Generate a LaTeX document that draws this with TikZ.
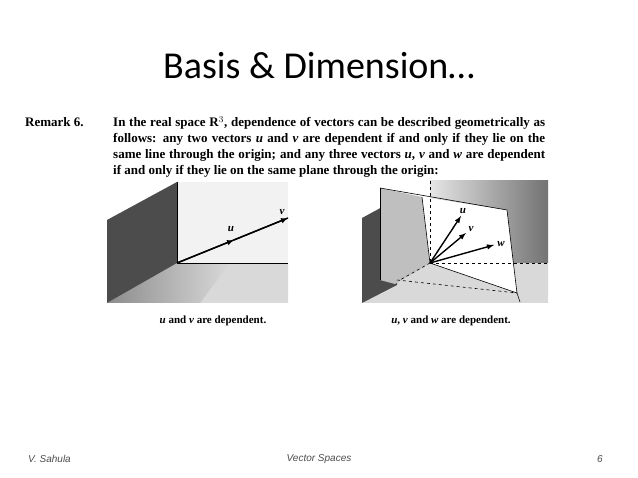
\documentclass[tikz,border=0pt]{standalone}
\usepackage{fontspec}
\setmainfont{Liberation Serif}
\newfontfamily\titlefont{Carlito}
\newfontfamily\footfont{Liberation Sans}
\begin{document}
\begin{tikzpicture}[x=1pt,y=-1pt,
  remtxt/.style={anchor=base west,inner sep=0,font=\fontsize{13}{15}\selectfont\bfseries},
  foot/.style={font=\fontsize{10}{11}\selectfont\footfont\itshape,text=black!70,inner sep=0},
  vec/.style={line width=1.4pt,-latex},
  captxt/.style={font=\fontsize{11}{13}\selectfont\bfseries,inner sep=0}]
\useasboundingbox (0,0) rectangle (638,478);
\node[font=\fontsize{38}{44}\selectfont\titlefont] (title) at (319,66) {Basis \& Dimension…};
\node[remtxt] (rem) at (25,127) {Remark 6.};
\node[remtxt] (l1) at (113,127) {\makebox[432pt][s]{In the real space \textbf{R}$^3$, dependence of vectors can be described geometrically as}};
\node[remtxt] (l2) at (113,143) {\makebox[432pt][s]{follows: any two vectors \textit{u} and \textit{v} are dependent if and only if they lie on the}};
\node[remtxt] (l3) at (113,159) {\makebox[432pt][s]{same line through the origin; and any three vectors \textit{u}, \textit{v} and \textit{w} are dependent}};
\node[remtxt] (l4) at (113,175) {if and only if they lie on the same plane through the origin:};
% left figure
\fill[black!15] (107,303) -- (177,263) -- (288,263) -- (288,303) -- cycle;
\shade[left color=black!45,right color=black!15] (107,303) -- (177,263) -- (230,263) -- (200,303) -- cycle;
\fill[black!5] (177,182) -- (288,182) -- (288,263) -- (177,263) -- cycle;
\fill[black!70] (107,220) -- (177,182) -- (177,263) -- (107,303) -- cycle;
\draw[line width=0.8pt] (177,263) -- (288,263);
\draw[line width=0.6pt] (177,182) -- (177,263);
\coordinate (o1) at (177,263);
\coordinate (m1) at (234,240);
\coordinate (e1) at (288,218);
\draw[line width=1.4pt] (o1) -- (e1);
\draw[vec] (o1) -- (m1);
\draw[vec] (m1) -- (e1);
\node[captxt] (lu) at (231,229) {\textit{u}};
\node[captxt] (lv) at (282,212) {\textit{v}};
\node[captxt] (c1) at (213,321) {\textit{u} and \textit{v} are dependent.};
% right figure
\fill[black!15] (362,303) -- (430,263) -- (548,263) -- (548,303) -- cycle;
\shade[left color=black!10,right color=black!55] (430,181) -- (548,181) -- (548,263) -- (430,263) -- cycle;
\fill[black!70] (362,218) -- (397,199) -- (397,285) -- (362,303) -- cycle;
\fill[black!25] (380,188) -- (422,197) -- (430,263) -- (395,284) -- (380,280) -- cycle;
\fill[white] (422,197) -- (507,210) -- (517,293) -- (430,263) -- cycle;
\draw[line width=0.6pt] (380,188) -- (507,210) -- (517,293);
\draw[line width=0.6pt] (422,197) -- (430,263);
\draw[line width=0.6pt] (380,188) -- (380,280);
\draw[line width=0.6pt] (430,263) -- (517,293);
\draw[dashed,line width=0.6pt] (430,181) -- (430,263);
\draw[dashed,line width=0.6pt] (430,263) -- (548,263);
\draw[dashed,line width=0.6pt] (430,263) -- (400,280);
\draw[dashed,line width=0.6pt] (397,280) -- (517,293);
\draw[line width=0.6pt] (517,293) -- (520,302);
\coordinate (o2) at (430,263);
\coordinate (eu) at (461,216);
\coordinate (ev) at (466,233);
\coordinate (ew) at (494,245);
\draw[vec] (o2) -- (eu);
\draw[vec] (o2) -- (ev);
\draw[vec] (o2) -- (ew);
\node[captxt] (ru) at (463,211) {\textit{u}};
\node[captxt] (rv) at (471,229) {\textit{v}};
\node[captxt] (rw) at (501,244) {\textit{w}};
\node[captxt] (c2) at (451,321) {\textit{u}, \textit{v} and \textit{w} are dependent.};
% footer
\node[foot,anchor=west] (f1) at (28,459) {V. Sahula};
\node[foot] (f2) at (319,459) {Vector Spaces};
\node[foot,anchor=east] (f3) at (603,459) {6};
\end{tikzpicture}
\end{document}
